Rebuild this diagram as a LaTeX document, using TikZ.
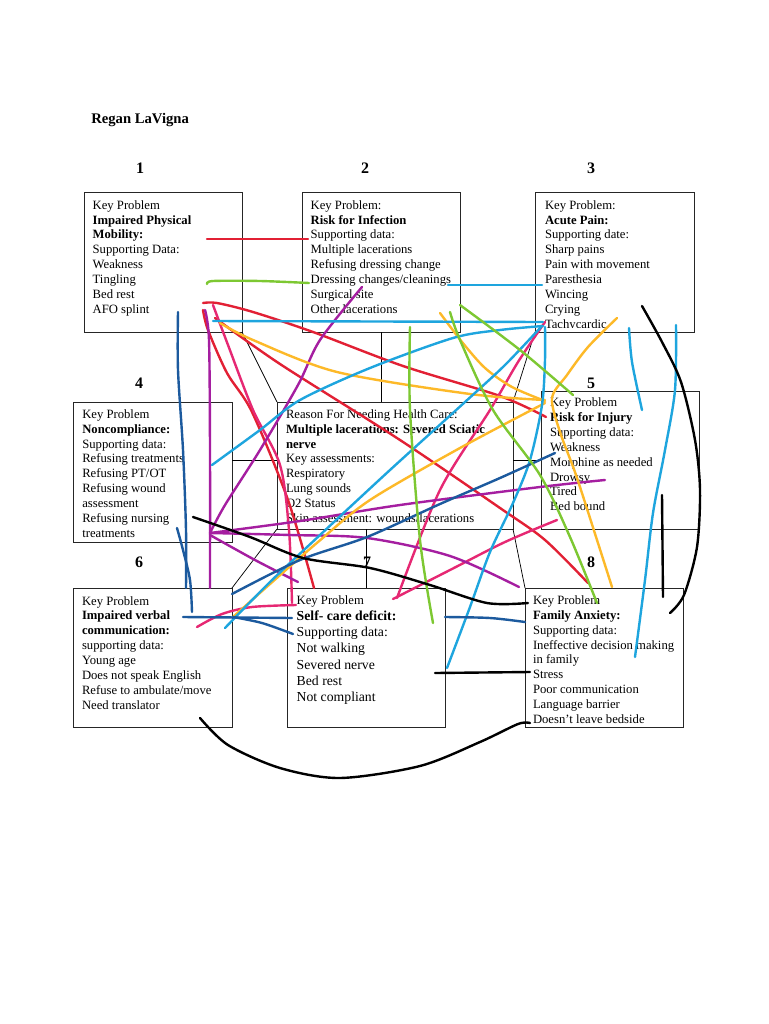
\documentclass[tikz,border=0pt]{standalone}
\usepackage{fontspec}
\setmainfont{Liberation Serif}
\definecolor{cRed}{RGB}{226,32,52}
\definecolor{cPink}{RGB}{230,40,115}
\definecolor{cMag}{RGB}{165,30,160}
\definecolor{cOra}{RGB}{253,185,40}
\definecolor{cLBlu}{RGB}{30,165,222}
\definecolor{cDBlu}{RGB}{28,90,158}
\definecolor{cGrn}{RGB}{125,200,50}
\tikzset{
  boxsty/.style={draw=black!85, line width=0.7pt, inner sep=0pt, outer sep=0pt, anchor=north west},
  txt/.style={inner sep=0pt, outer sep=0pt, anchor=north west, align=left, font=\fontsize{9.5}{11.15}\selectfont},
  numsty/.style={inner sep=0pt, font=\fontsize{12}{14}\selectfont\bfseries},
  link/.style={line width=0.55pt, draw=black},
  ink/.style={line width=1.8pt, line cap=round, line join=round},
  rd/.style={ink, draw=cRed},
  pk/.style={ink, draw=cPink},
  mg/.style={ink, draw=cMag},
  og/.style={ink, draw=cOra},
  lb/.style={ink, draw=cLBlu},
  db/.style={ink, draw=cDBlu},
  gn/.style={ink, draw=cGrn},
  bk/.style={ink, draw=black},
}
\begin{document}
\begin{tikzpicture}[x=0.75pt,y=-0.75pt]
\useasboundingbox (0,0) rectangle (768,1024);
\fill[white] (0,0) rectangle (768,1024);

% title and numbers
\node[anchor=base west, inner sep=0pt, font=\fontsize{11}{13}\selectfont\bfseries] (title) at (91,123) {Regan LaVigna};
\node[numsty] (n1) at (140,168) {1};
\node[numsty] (n2) at (365,168) {2};
\node[numsty] (n3) at (591,168) {3};
\node[numsty] (n4) at (139,383) {4};
\node[numsty] (n5) at (591,383) {5};
\node[numsty] (n6) at (139,562) {6};
\node[numsty] (n7) at (367,562) {7};
\node[numsty] (n8) at (591,562) {8};

% boxes
\node[boxsty, minimum width=118.5pt, minimum height=105pt] (B1) at (84,192) {};
\node[boxsty, minimum width=118.5pt, minimum height=105pt] (B2) at (302,192) {};
\node[boxsty, minimum width=119.25pt, minimum height=105pt] (B3) at (535,192) {};
\node[boxsty, minimum width=119.25pt, minimum height=105pt] (B4) at (73,402) {};
\node[boxsty, minimum width=177pt, minimum height=95.25pt] (C) at (277,402) {};
\node[boxsty, minimum width=118.5pt, minimum height=103.5pt] (B5) at (541,391) {};
\node[boxsty, minimum width=119.25pt, minimum height=104.25pt] (B6) at (73,588) {};
\node[boxsty, minimum width=118.5pt, minimum height=104.25pt] (B7) at (287,588) {};
\node[boxsty, minimum width=118.5pt, minimum height=104.25pt] (B8) at (525,588) {};

% thin connectors
\draw[link] (B1.south east) -- (C.north west);
\draw[link] (B2.south) -- (B2.south |- C.north);
\draw[link] (B3.south west) -- (C.north east);
\coordinate (j4) at ([yshift=9pt]B4.east);
\draw[link] (j4) -- (j4 -| C.west);
\draw[link] (B5.west) -- (B5.west -| C.east);
\draw[link] (C.south west) -- (B6.north east);
\draw[link] (B7.north |- C.south) -- (B7.north);
\draw[link] (C.south east) -- (B8.north west);

% texts
\node[txt] (t1) at (92.7,200.4) {Key Problem\\\textbf{Impaired Physical}\\\textbf{Mobility:}\\Supporting Data:\\Weakness\\Tingling\\Bed rest\\AFO splint};
\node[txt] (t2) at (310.7,200.4) {Key Problem:\\\textbf{Risk for Infection}\\Supporting data:\\Multiple lacerations\\Refusing dressing change\\Dressing changes/cleanings\\Surgical site\\Other lacerations};
\begin{scope}
\clip (535,192) rectangle (694,327);
\node[txt] (t3) at (545,200.4) {Key Problem:\\\textbf{Acute Pain:}\\Supporting date:\\Sharp pains\\Pain with movement\\Paresthesia\\Wincing\\Crying\\Tachycardic};
\end{scope}
\node[txt] (t4) at (82.3,409.6) {Key Problem\\\textbf{Noncompliance:}\\Supporting data:\\Refusing treatments\\Refusing PT/OT\\Refusing wound\\assessment\\Refusing nursing\\treatments};
\begin{scope}
\clip (277,402) rectangle (513,529);
\node[txt] (tc) at (286,409.6) {Reason For Needing Health Care:\\\textbf{Multiple lacerations: Severed Sciatic}\\\textbf{nerve}\\Key assessments:\\Respiratory\\Lung sounds\\O2 Status\\Skin assessment: wounds/lacerations};
\end{scope}
\node[txt] (t5) at (550,398) {Key Problem\\\textbf{Risk for Injury}\\Supporting data:\\Weakness\\Morphine as needed\\Drowsy\\Tired\\Bed bound};
\node[txt] (t6) at (82,596.3) {Key Problem\\\textbf{Impaired verbal}\\\textbf{communication:}\\supporting data:\\Young age\\Does not speak English\\Refuse to ambulate/move\\Need translator};
\node[txt] (t7a) at (296.7,595.8) {Key Problem};
\node[txt, font=\fontsize{10.3}{12.25}\selectfont] (t7b) at (296.7,610.5) {\textbf{Self- care deficit:}\\Supporting data:\\Not walking\\Severed nerve\\Bed rest\\Not compliant};
\node[txt] (t8) at (533,595.7) {Key Problem\\\textbf{Family Anxiety:}\\Supporting data:\\Ineffective decision making\\in family\\Stress\\Poor communication\\Language barrier\\Doesn’t leave bedside};

% red
\draw[rd] (207,239) -- (308,239);
\draw[rd] plot[smooth] coordinates {(203,303) (217,303) (253,312) (313,332) (403,366) (500,396) (546,417)};
\draw[rd] plot[smooth] coordinates {(215,318) (280,364) (400,440) (500,508) (545,540) (588,583)};
\draw[rd] plot[smooth] coordinates {(203,310) (208,330) (227,373) (252,412) (288,500) (314,588)};
% pink
\draw[pk] plot[smooth] coordinates {(213,305) (228,345) (253,410) (280,465) (289,530) (292,603)};
\draw[pk] plot[smooth] coordinates {(197,627) (222,614) (252,607) (296,605)};
\draw[pk] plot[smooth] coordinates {(545,322) (518,362) (490,410) (440,490) (397,598)};
\draw[pk] plot[smooth] coordinates {(393,599) (450,570) (505,542) (557,520)};
% magenta
\draw[mg] plot[smooth] coordinates {(205,310) (209,340) (210,450) (210,588)};
\draw[mg] plot[smooth] coordinates {(210,533) (300,521) (400,505) (540,487) (605,480)};
\draw[mg] plot[smooth] coordinates {(210,533) (290,535) (367,538) (450,556) (519,587)};
\draw[mg] plot[smooth] coordinates {(210,535) (255,560) (298,582)};
\draw[mg] plot[smooth] coordinates {(362,287) (320,340) (298,385) (260,450) (225,505) (210,533)};
% orange
\draw[og] plot[smooth] coordinates {(220,323) (253,340) (337,372) (470,394) (545,400)};
\draw[og] plot[smooth] coordinates {(617,318) (588,347) (567,375) (552,398) (560,432) (576,475) (597,540) (612,587)};
\draw[og] plot[smooth] coordinates {(440,313) (462,342) (485,368) (512,387) (545,401)};
\draw[og] plot[smooth] coordinates {(545,403) (460,448) (370,500) (318,542) (270,584) (233,617)};
% light blue
\draw[lb] (448,285) -- (542,285);
\draw[lb] (213,321) -- (543,322);
\draw[lb] plot[smooth] coordinates {(543,326) (500,330) (453,338) (370,368) (300,400) (260,430) (212,465)};
\draw[lb] plot[smooth] coordinates {(541,327) (505,365) (465,402) (390,470) (320,535) (270,582) (225,628)};
\draw[lb] plot[smooth] coordinates {(545,327) (545,360) (542,405) (530,460) (513,503) (490,552) (470,607) (447,668)};
\draw[lb] plot[smooth] coordinates {(629,328) (632,362) (642,410)};
\draw[lb] plot[smooth] coordinates {(676,325) (675,390) (665,450) (653,513) (645,580) (635,657)};
% dark blue
\draw[db] plot[smooth] coordinates {(178,312) (178,370) (183,450) (186,530) (186,588)};
\draw[db] plot[smooth] coordinates {(177,528) (183,550) (190,580) (192,612)};
\draw[db] (183,617) -- (292,618);
\draw[db] plot[smooth] coordinates {(445,617) (490,618) (525,622)};
\draw[db] plot[smooth] coordinates {(233,617) (262,623) (293,634)};
\draw[db] plot[smooth] coordinates {(232,594) (300,560) (367,537) (440,504) (500,478) (555,453)};
% green
\draw[gn] plot[smooth] coordinates {(207,284) (213,281) (260,281) (309,283)};
\draw[gn] plot[smooth] coordinates {(410,327) (410,410) (420,540) (433,623)};
\draw[gn] plot[smooth] coordinates {(450,312) (460,340) (493,410) (540,475) (570,537) (597,603)};
\draw[gn] plot[smooth] coordinates {(460,305) (520,350) (573,395)};
% black
\draw[bk] plot[smooth] coordinates {(193,517) (250,537) (303,558) (370,568) (430,585) (487,603) (528,603)};
\draw[bk] (435,673) -- (530,672);
\draw[bk] plot[smooth] coordinates {(200,718) (228,745) (280,768) (340,778) (420,766) (480,742) (518,724) (530,723)};
\draw[bk] plot[smooth] coordinates {(642,306) (662,342) (681,382) (695,440) (700,490) (697,547) (684,595) (670,613)};
\draw[bk] (662,495) -- (663,597);
\end{tikzpicture}
\end{document}
